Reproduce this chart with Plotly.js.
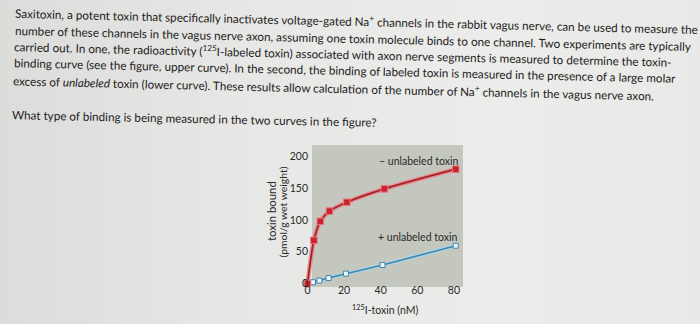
<!DOCTYPE html>
<html>
<head>
<meta charset="utf-8">
<script src="https://cdn.plot.ly/plotly-3.0.1.min.js"></script>
<style>
html,body{margin:0;padding:0;width:700px;height:324px;overflow:hidden;
background:linear-gradient(to right,#dcdcda 0%,#e7e7e5 35%,#ececea 70%,#e9e9e7 100%);}
#chart{width:700px;height:324px;}
</style>
</head>
<body>
<div id="chart"></div>
<script>
// ---- data ----
const toxinNoUnlabeledX = [0, 3.5, 7, 12, 21.5, 42, 81];
const toxinNoUnlabeledY = [0, 68, 98, 114, 128, 149, 180];
const toxinWithUnlabeledX = [0, 3, 6.5, 11.5, 21, 41, 81];
const toxinWithUnlabeledY = [0, 2, 4.5, 8.5, 15.5, 29, 59.5];
const xTicks = [0, 20, 40, 60, 80];
const yTicks = [0, 50, 100, 150, 200];
const seriesLabels = ['\u2013 unlabeled toxin', '+ unlabeled toxin'];
const paragraphLines = [
  'Saxitoxin, a potent toxin that specifically inactivates voltage-gated Na<sup>+</sup> channels in the rabbit vagus nerve, can be used to measure the',
  'number of these channels in the vagus nerve axon, assuming one toxin molecule binds to one channel. Two experiments are typically',
  'carried out. In one, the radioactivity (<sup>125</sup>I-labeled toxin) associated with axon nerve segments is measured to determine the toxin-',
  'binding curve (see the figure, upper curve). In the second, the binding of labeled toxin is measured in the presence of a large molar',
  'excess of <i>unlabeled</i> toxin (lower curve). These results allow calculation of the number of Na<sup>+</sup> channels in the vagus nerve axon.'
];
const questionText = 'What type of binding is being measured in the two curves in the figure?';

// ---- layout geometry (pixels) ----
const W = 700, H = 324;
const x0px = 307.5, xScale = 1.83;   // px per nM
const y0px = 283.5, yScale = 0.635;  // px per pmol/g
const px2x = p => (p - x0px) / xScale;
const py2y = p => (y0px - p) / yScale;

const lineStarts = [[13, 21], [13, 38], [12, 54], [12, 70.5], [11, 87]];
const txtFont = {family: 'Lato, sans-serif', size: 11.7, color: '#1c1c1c'};
const annotations = paragraphLines.map((t, i) => ({
  text: t, xref: 'paper', yref: 'paper',
  x: lineStarts[i][0] / W, y: 1 - lineStarts[i][1] / H,
  xanchor: 'left', yanchor: 'middle', showarrow: false,
  textangle: 1.35, font: txtFont
}));
annotations.push({
  text: questionText, xref: 'paper', yref: 'paper',
  x: 10 / W, y: 1 - 118.5 / H, xanchor: 'left', yanchor: 'middle',
  showarrow: false, textangle: 1.2, font: txtFont
});
const chartFont = {family: 'Lato, sans-serif', size: 10.5, color: '#2a2a2a'};
annotations.push({
  text: 'toxin bound', xref: 'paper', yref: 'paper', x: 271 / W, y: 1 - 243 / H,
  xanchor: 'center', yanchor: 'bottom', showarrow: false, textangle: -90,
  font: {family: 'Lato, sans-serif', size: 11.4, color: '#2a2a2a'}
});
annotations.push({
  text: '(pmol/g wet weight)', xref: 'paper', yref: 'paper', x: 282 / W, y: 1 - 260 / H,
  xanchor: 'center', yanchor: 'bottom', showarrow: false, textangle: -90,
  font: {family: 'Lato, sans-serif', size: 10.4, color: '#2a2a2a'}
});
annotations.push({
  text: '<sup>125</sup>I-toxin (nM)', xref: 'paper', yref: 'paper', x: 385 / W, y: 1 - 309 / H,
  xanchor: 'center', yanchor: 'middle', showarrow: false, font: chartFont
});
annotations.push({
  text: seriesLabels[0], xref: 'paper', yref: 'paper', x: 460 / W, y: 1 - 160.5 / H,
  xanchor: 'right', yanchor: 'middle', showarrow: false, font: chartFont
});
annotations.push({
  text: seriesLabels[1], xref: 'paper', yref: 'paper', x: 459 / W, y: 1 - 237 / H,
  xanchor: 'right', yanchor: 'middle', showarrow: false, font: chartFont
});

const traces = [
  {x: toxinWithUnlabeledX, y: toxinWithUnlabeledY, mode: 'lines', hoverinfo: 'skip',
   line: {color: 'rgba(170,215,235,0.8)', width: 4}},
  {x: toxinWithUnlabeledX, y: toxinWithUnlabeledY, mode: 'lines+markers',
   line: {color: '#3f86ad', width: 1.6},
   marker: {symbol: 'square', size: 5, color: '#eef7fa', line: {color: '#3f86ad', width: 1}}},
  {x: toxinNoUnlabeledX, y: toxinNoUnlabeledY, mode: 'lines', hoverinfo: 'skip',
   line: {color: 'rgba(240,120,125,0.75)', width: 4.5, shape: 'spline', smoothing: 0.8}},
  {x: toxinNoUnlabeledX, y: toxinNoUnlabeledY, mode: 'lines+markers',
   line: {color: '#a3222b', width: 1.8, shape: 'spline', smoothing: 0.8},
   marker: {symbol: 'square', size: 6.5, color: '#c8232e', line: {color: '#e9767c', width: 1}}}
];

const layout = {
  width: W, height: H, margin: {l: 0, r: 0, t: 0, b: 0},
  paper_bgcolor: 'rgba(0,0,0,0)', plot_bgcolor: 'rgba(0,0,0,0)',
  showlegend: false,
  xaxis: {domain: [0, 1], range: [px2x(0), px2x(W)], anchor: 'free', position: (H - 282) / H,
    tickvals: xTicks, ticktext: xTicks.map(String), showgrid: false, zeroline: false, showline: false,
    ticks: '', tickfont: chartFont, fixedrange: true},
  yaxis: {domain: [0, 1], range: [py2y(H), py2y(0)], anchor: 'free', position: 308 / W,
    tickvals: yTicks, ticktext: yTicks.map(String), showgrid: false, zeroline: false, showline: false,
    ticks: '', tickfont: chartFont, fixedrange: true},
  shapes: [{type: 'rect', xref: 'x', yref: 'y', layer: 'below',
    x0: px2x(312), x1: px2x(463), y0: py2y(287), y1: py2y(145),
    fillcolor: '#c4c7be', line: {width: 0}}],
  annotations: annotations
};
Plotly.newPlot('chart', traces, layout, {staticPlot: true, displayModeBar: false});
</script>
</body>
</html>
